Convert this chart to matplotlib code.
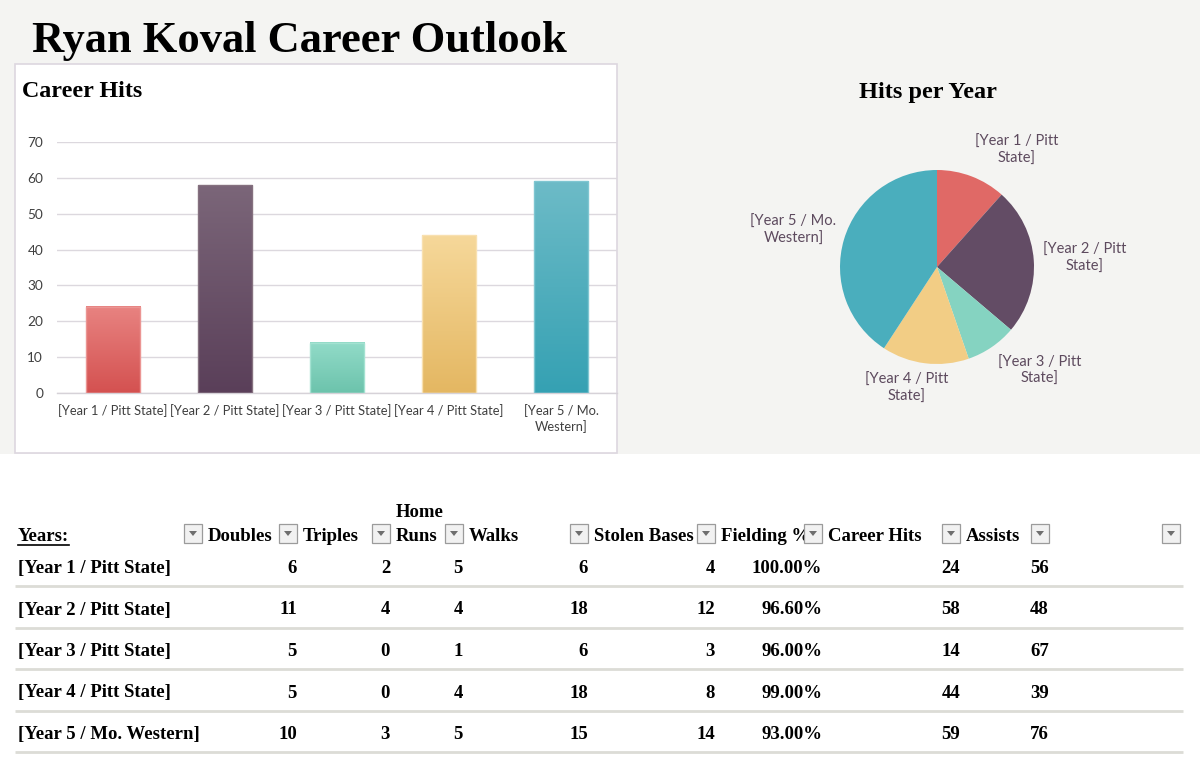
import matplotlib
matplotlib.use("Agg")
import matplotlib.pyplot as plt
import numpy as np
from matplotlib.patches import Rectangle, Polygon
from matplotlib.colors import LinearSegmentedColormap

# data
years = ["[Year 1 / Pitt State]", "[Year 2 / Pitt State]", "[Year 3 / Pitt State]",
         "[Year 4 / Pitt State]", "[Year 5 / Mo. Western]"]
bar_labels = ["[Year 1 / Pitt State]", "[Year 2 / Pitt State]", "[Year 3 / Pitt State]",
              "[Year 4 / Pitt State]", "[Year 5 / Mo.\nWestern]"]
pie_labels = ["[Year 1 / Pitt\nState]", "[Year 2 / Pitt\nState]", "[Year 3 / Pitt\nState]",
              "[Year 4 / Pitt\nState]", "[Year 5 / Mo.\nWestern]"]
career_hits = [24, 58, 14, 44, 59]
# pie slice shares (%)
hits_per_year_share = [11.6, 24.6, 8.5, 14.5, 40.8]
doubles = [6, 11, 5, 5, 10]
triples = [2, 4, 0, 0, 3]
home_runs = [5, 4, 1, 4, 5]
walks = [6, 18, 6, 18, 15]
stolen_bases = [4, 12, 3, 8, 14]
fielding_pct = [100.00, 96.60, 96.00, 99.00, 93.00]
assists = [56, 48, 67, 39, 76]
headers = ["Years:", "Doubles", "Triples", "Home\nRuns", "Walks", "Stolen Bases",
           "Fielding %", "Career Hits", "Assists", ""]

# styles
pie_colors = ["#e06966", "#634c65", "#85d3c1", "#f2cd85", "#4aaebd"]
bar_top = ["#e88381", "#7b6679", "#92dbc8", "#f6d89a", "#6dbbc7"]
bar_bot = ["#d45150", "#5a3f59", "#6cc3ac", "#e4b762", "#35a1b3"]
bar_edge = ["#eb9593", "#85717f", "#a3e2d1", "#f8e0b0", "#7fc6d1"]
SERIF = "Liberation Serif"
SANS = "Lato"

fig = plt.figure(figsize=(12, 7.68), dpi=100)
fig.patch.set_facecolor("white")

# page layer in pixel coordinates
bg = fig.add_axes([0, 0, 1, 1])
bg.set_xlim(0, 1200)
bg.set_ylim(768, 0)
bg.axis("off")
bg.add_patch(Rectangle((0, 0), 1200, 454, facecolor="#f4f4f2", edgecolor="none"))
bg.add_patch(Rectangle((15, 64), 602, 389, facecolor="white", edgecolor="#ddd7df", lw=1.2))

bg.text(32, 52, "Ryan Koval Career Outlook", family=SERIF, weight="bold", fontsize=32,
        va="baseline", ha="left")
bg.text(22, 97, "Career Hits", family=SERIF, weight="bold", fontsize=17.3,
        va="baseline", ha="left")
bg.text(928, 98, "Hits per Year", family=SERIF, weight="bold", fontsize=17.5,
        va="baseline", ha="center")

# bar chart
ax = fig.add_axes([57 / 1200, (768 - 393) / 768, 560 / 1200, 251 / 768])
ax.patch.set_alpha(0)
x = np.arange(len(career_hits))
bars = ax.bar(x, career_hits, width=0.49, facecolor="none", edgecolor=bar_edge,
              linewidth=1.0, zorder=3)
grad = np.linspace(0, 1, 256).reshape(-1, 1)
for i, rect in enumerate(bars):
    cmap = LinearSegmentedColormap.from_list("g%d" % i, [bar_bot[i], bar_top[i]])
    x0 = rect.get_x()
    ax.imshow(grad, extent=[x0, x0 + rect.get_width(), 0, rect.get_height()],
              origin="lower", cmap=cmap, aspect="auto", zorder=2)
ax.set_xlim(-0.5, 4.5)
ax.set_ylim(0, 70)
ax.set_yticks(range(0, 71, 10))
ax.set_xticks(x)
ax.set_xticklabels(bar_labels, family=SANS, fontsize=9.3, color="#404040", linespacing=1.3)
for lab in ax.get_yticklabels():
    lab.set_family(SANS)
    lab.set_fontsize(9.8)
    lab.set_color("#404040")
ax.tick_params(length=0)
ax.tick_params(axis="y", pad=10)
ax.tick_params(axis="x", pad=8)
ax.set_axisbelow(True)
ax.yaxis.grid(True, color="#dcd8de", lw=1.0)
for s in ["top", "right", "left"]:
    ax.spines[s].set_visible(False)
ax.spines["bottom"].set_color("#d6d2d8")
ax.spines["bottom"].set_linewidth(1.0)

# pie chart
R = 97.0
L = 1.8
side = 2 * L * R
pax = fig.add_axes([(937 - side / 2) / 1200, (768 - 267 - side / 2) / 768,
                    side / 1200, side / 768])
pax.pie(hits_per_year_share, colors=pie_colors, startangle=90, counterclock=False,
        wedgeprops=dict(linewidth=0))
pax.set_xlim(-L, L)
pax.set_ylim(-L, L)
pax.axis("off")
label_pos = [(0.82, 1.20), (1.52, 0.09), (1.06, -1.07), (-0.31, -1.25), (-1.48, 0.38)]
for lab, (lx, ly) in zip(pie_labels, label_pos):
    pax.text(lx, ly, lab, ha="center", va="center", multialignment="center",
             family=SANS, fontsize=10.5, color="#5d4a5e", linespacing=1.25)

# table
col_right = [203, 298, 391, 464, 589, 716, 823, 961, 1050, 1181]
header_base = 541
bold = dict(family=SERIF, weight="bold", fontsize=13.5, color="black")

for j, h in enumerate(headers):
    hx = 18 if j == 0 else col_right[j - 1] + 5
    lines = h.split("\n")
    for k, line in enumerate(reversed(lines)):
        bg.text(hx, header_base - 24 * k, line, va="baseline", ha="left", zorder=3, **bold)
    # dropdown button
    bx = col_right[j] - 19
    bg.add_patch(Rectangle((bx, 524), 18, 19, facecolor="#f1f1f1", edgecolor="#9b9b9b",
                           lw=0.9, zorder=4))
    bg.add_patch(Polygon([(bx + 5, 531), (bx + 13, 531), (bx + 9, 536)], closed=True,
                         facecolor="#6e6e6e", edgecolor="none", zorder=5))

# underline for "Years:"
fig.canvas.draw()
yt = [t for t in bg.texts if t.get_text() == "Years:"][0]
bb = yt.get_window_extent().transformed(bg.transData.inverted())
bg.plot([bb.x0, bb.x1], [header_base + 4, header_base + 4], color="black", lw=1.2)

columns = [doubles, triples, home_runs, walks, stolen_bases,
           ["%.2f%%" % v for v in fielding_pct], career_hits, assists]
row_y0 = 567
row_step = 41.5
for i, yr in enumerate(years):
    cy = row_y0 + i * row_step
    bg.text(18, cy + 6, yr, va="baseline", ha="left", **bold)
    for j, col in enumerate(columns):
        bg.text(col_right[j + 1] - 1, cy + 6, str(col[i]), va="baseline", ha="right", **bold)
    bg.plot([15, 1183], [cy + 19, cy + 19], color="#dcdcd6", lw=2.0, solid_capstyle="butt")

fig.savefig("out.png", dpi=100)
